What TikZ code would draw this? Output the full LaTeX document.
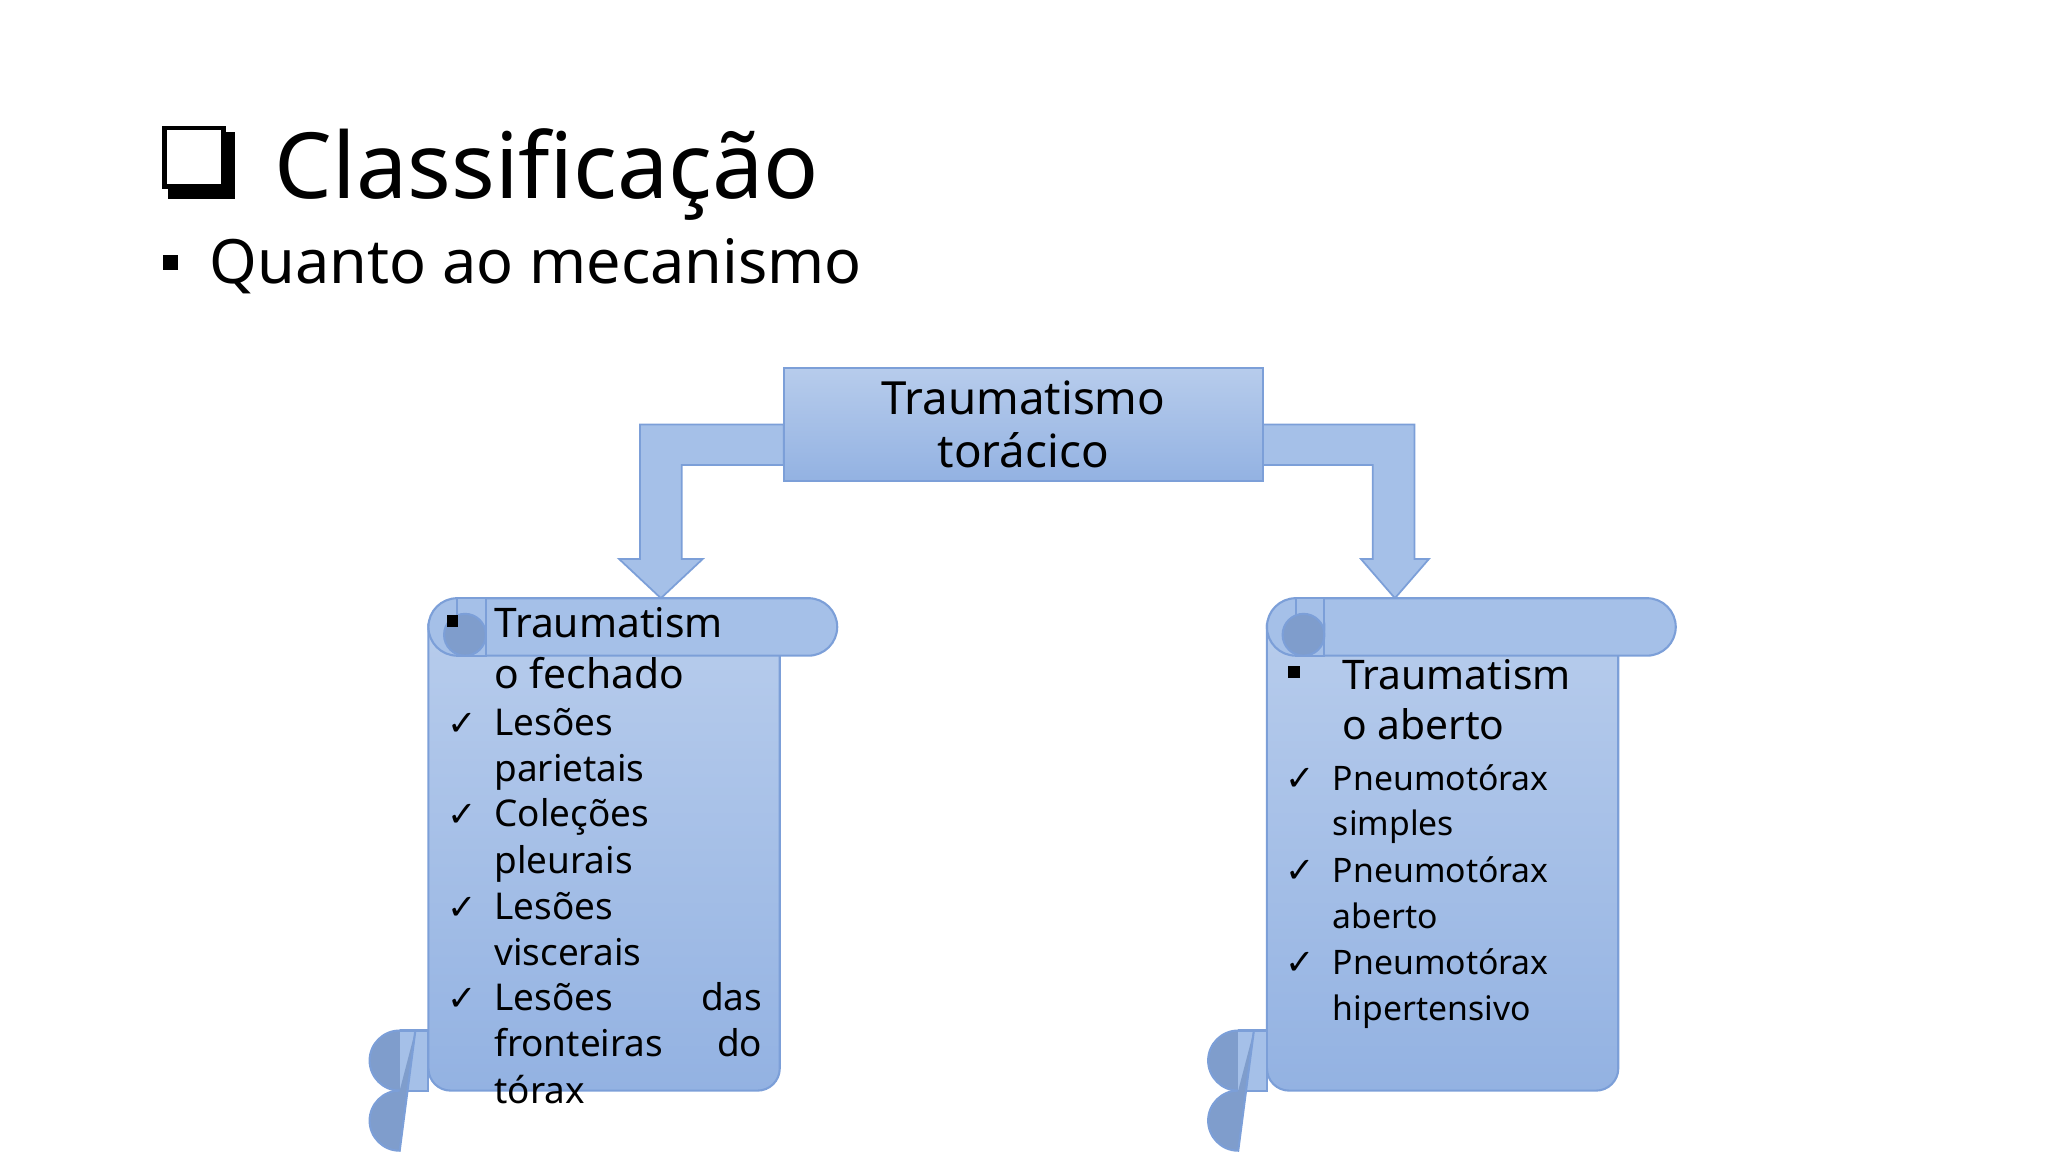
\documentclass[tikz,border=0pt]{standalone}
\usepackage{fontspec}
\setmainfont{Noto Sans}
\newfontfamily\symf{DejaVu Sans}
\definecolor{bt}{HTML}{B7CCEC}
\definecolor{bb}{HTML}{93B2E2}
\definecolor{bd}{HTML}{7C9FD8}
\definecolor{bc}{HTML}{7F9DCC}
\definecolor{ba}{HTML}{A5C0E8}
\begin{document}
\begin{tikzpicture}[x=0.013061cm,y=-0.013061cm,
  blu/.style={draw=bd, line width=0.6pt, top color=bt, bottom color=bb},
  flat/.style={draw=bd, line width=0.6pt, fill=ba},
  curl/.style={draw=bd, line width=0.6pt, fill=bc},
  arr/.style={draw=bd, line width=0.5pt, fill=ba},
  lt/.style={anchor=base west, inner sep=0pt, font=\fontsize{10.5}{12}\selectfont},
  rt/.style={anchor=base west, inner sep=0pt, font=\fontsize{9.6}{12}\selectfont},
  hd/.style={anchor=base west, inner sep=0pt, font=\bfseries\fontsize{11.6}{14}\selectfont},
  ck/.style={anchor=base west, inner sep=0pt, font=\symf\fontsize{10}{12}\selectfont}]
\useasboundingbox (0,0) rectangle (1568,882);
% title
\fill[black] (129,101) rectangle (180,152);
\draw[black, line width=1.3pt, fill=white] (126,98) rectangle (171,143);
\node[anchor=base west, inner sep=0pt, font=\fontsize{26}{30}\selectfont\bfseries] (title) at (210,152) {Classificação};
\fill (125,195) rectangle (136,207);
\node[anchor=base west, inner sep=0pt, font=\fontsize{17.4}{20}\selectfont] (sub) at (160,217) {Quanto ao mecanismo};
% arrows
\path[arr] (600,325) -- (490,325) -- (490,428) -- (474,428) -- (506,458) -- (538,428) -- (522,428) -- (522,356) -- (600,356) -- cycle;
\path[arr] (967,325) -- (1083,325) -- (1083,428) -- (1094,428) -- (1068,458) -- (1042,428) -- (1051,428) -- (1051,356) -- (967,356) -- cycle;
% top box
\node[blu, minimum width=367*0.013061cm, minimum height=86*0.013061cm, inner sep=0pt, align=center, font=\bfseries\fontsize{13}{15}\selectfont] (top) at (783.5,325) {Traumatismo\\torácico};
% scrolls
\foreach \dx in {0,642}{
  \begin{scope}[xshift=\dx*0.013061cm]
  \path[curl] (306,812) circle (23);
  \path[blu, rounded corners=17*0.013061cm] (328,478) -- (328,835) -- (597,835) -- (597,490) [sharp corners] -- (597,478) -- cycle;
  \path[flat] (306,789) -- (328,789) -- (328,835) -- (306,835);
  \path[curl] (306,812) ++(0,23) arc (270:90:23) -- (318,789);
  \path[flat] (350,458) circle (0) ;
  \path[flat, rounded corners=22*0.013061cm] (350,458) -- (641,458) -- (641,502) -- (350,502);
  \path[flat] (350,480) circle (22);
  \path[flat] (350,458) rectangle (372,502);
  \path[curl] (356,486) circle (16);
  \draw[bd, line width=0.6pt] (350,458) -- (372,458) (372,470) -- (372,502);
  \end{scope}}
% left text
\fill (342,471) rectangle (351,480);
\node[hd] (l1) at (378,488) {Traumatism};
\node[hd] (l2) at (378,527) {o fechado};
\foreach \y/\t in {563/Lesões,598/parietais,633/Coleções,669/pleurais,704/Lesões,739/viscerais,774/Lesões,809/fronteiras,845/tórax}
  \node[lt] at (378,\y) {\t};
\foreach \y in {563,633,704,774} \node[ck] at (342,\y) {✓};
\node[lt, anchor=base east] (das) at (584,774) {das};
\node[lt, anchor=base east] (do) at (584,809) {do};
% right text
\fill (986,510) rectangle (995,519);
\node[hd] (r1) at (1027,528) {Traumatism};
\node[hd] (r2) at (1027,566) {o aberto};
\foreach \y/\t in {605/Pneumotórax,640/simples,676/Pneumotórax,711/aberto,746/Pneumotórax,781/hipertensivo}
  \node[rt] at (1020,\y) {\t};
\foreach \y in {605,676,746} \node[ck] at (984,\y) {✓};
\end{tikzpicture}
\end{document}
